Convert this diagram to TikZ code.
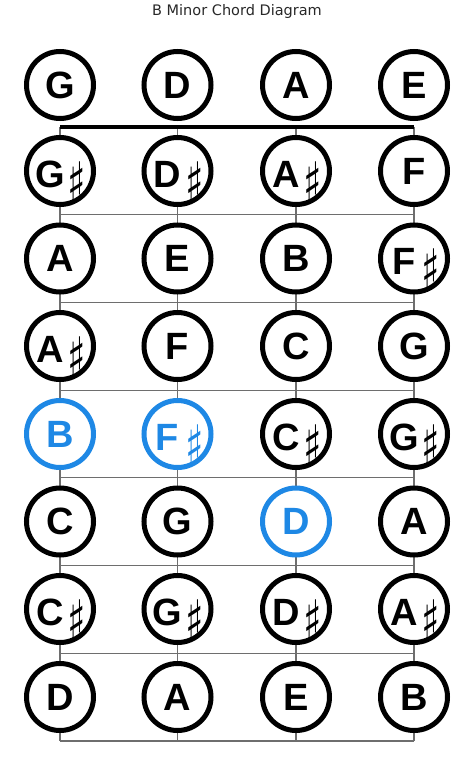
\documentclass[tikz,border=0pt]{standalone}
\usepackage{fontspec}
\setmainfont{Liberation Sans}
\newfontfamily\titlefont{DejaVu Sans}
\newfontfamily\sharpfont{DejaVu Sans}
\definecolor{chordblue}{RGB}{30,136,229}
\definecolor{fretgray}{RGB}{110,110,110}
\definecolor{titlegray}{RGB}{40,40,40}
\newcommand\plainnote[5]{%
  \node[ring=#5] (#1) at (#2,#3) {};
  \node[notelabel=#5] (#1-l) at (#1.center) {#4};
}
\newcommand\sharpnote[5]{%
  \node[ring=#5] (#1) at (#2,#3) {};
  \node[notelabel=#5] (#1-l) at ([shift={(-10,3)}]#1.center) {#4};
  \node[sharplabel=#5] (#1-s) at ([shift={(17,10)}]#1.center) {\scalebox{0.72}[1]{♯}};
}
\begin{document}
\begin{tikzpicture}[x=1pt,y=-1pt,
  ring/.style={circle,draw=#1,line width=5pt,fill=white,minimum size=67pt,inner sep=0pt},
  notelabel/.style={text=#1,font=\fontsize{38}{38}\selectfont\bfseries,inner sep=0pt},
  sharplabel/.style={text=#1,font=\sharpfont\fontsize{53}{53}\selectfont,inner sep=0pt},
  fretline/.style={draw=fretgray,line width=1.2pt},
  stringline/.style={draw=fretgray,line width=1.2pt},
  nutline/.style={draw=black,line width=4pt},
  titletext/.style={font=\titlefont\fontsize{14.5}{14.5}\selectfont,text=titlegray}]
\useasboundingbox (0,0) rectangle (474,765);
\node[titletext] (title) at (237,12) {B Minor Chord Diagram};
% strings
\foreach \c/\x in {1/60,2/177.5,3/296,4/414}{
  \coordinate (s\c t) at (\x,127);
  \coordinate (s\c b) at (\x,740.9);
  \draw[stringline] (s\c t) -- (s\c b);
}
% frets
\foreach \k/\y in {1/214.7,2/302.4,3/390.1,4/477.8,5/565.5,6/653.2,7/740.9}{
  \coordinate (f\k l) at (60,\y);
  \coordinate (f\k r) at (414,\y);
  \draw[fretline] (f\k l) -- (f\k r);
}
\draw[nutline] (s1t) -- (s4t);
% row 1
\plainnote{n11}{60}{85}{G}{black}
\plainnote{n12}{177.5}{85}{D}{black}
\plainnote{n13}{296}{85}{A}{black}
\plainnote{n14}{414}{85}{E}{black}
% row 2
\sharpnote{n21}{60}{171}{G}{black}
\sharpnote{n22}{177.5}{171}{D}{black}
\sharpnote{n23}{296}{171}{A}{black}
\plainnote{n24}{414}{171}{F}{black}
% row 3
\plainnote{n31}{60}{258.5}{A}{black}
\plainnote{n32}{177.5}{258.5}{E}{black}
\plainnote{n33}{296}{258.5}{B}{black}
\sharpnote{n34}{414}{258.5}{F}{black}
% row 4
\sharpnote{n41}{60}{346}{A}{black}
\plainnote{n42}{177.5}{346}{F}{black}
\plainnote{n43}{296}{346}{C}{black}
\plainnote{n44}{414}{346}{G}{black}
% row 5
\plainnote{n51}{60}{434}{B}{chordblue}
\sharpnote{n52}{177.5}{434}{F}{chordblue}
\sharpnote{n53}{296}{434}{C}{black}
\sharpnote{n54}{414}{434}{G}{black}
% row 6
\plainnote{n61}{60}{521.5}{C}{black}
\plainnote{n62}{177.5}{521.5}{G}{black}
\plainnote{n63}{296}{521.5}{D}{chordblue}
\plainnote{n64}{414}{521.5}{A}{black}
% row 7
\sharpnote{n71}{60}{609}{C}{black}
\sharpnote{n72}{177.5}{609}{G}{black}
\sharpnote{n73}{296}{609}{D}{black}
\sharpnote{n74}{414}{609}{A}{black}
% row 8
\plainnote{n81}{60}{697}{D}{black}
\plainnote{n82}{177.5}{697}{A}{black}
\plainnote{n83}{296}{697}{E}{black}
\plainnote{n84}{414}{697}{B}{black}
\end{tikzpicture}
\end{document}
